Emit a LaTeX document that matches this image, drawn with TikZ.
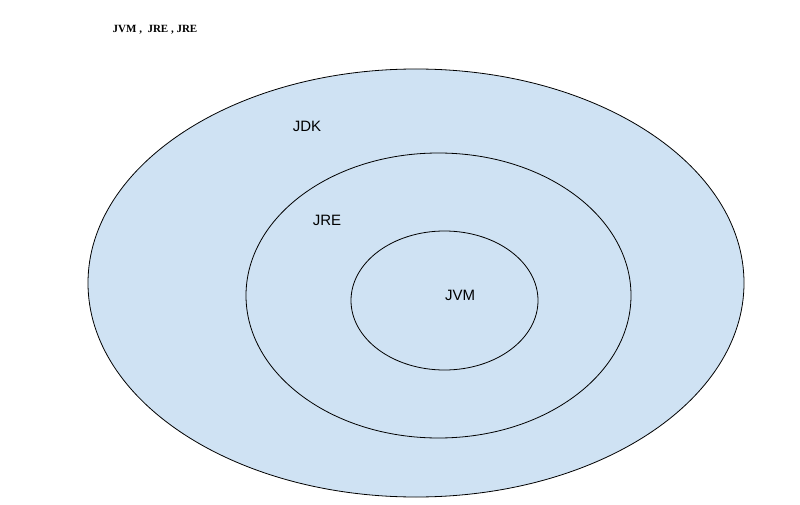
\documentclass[tikz,border=0pt]{standalone}
\usepackage{fontspec}
\setmainfont{Liberation Serif}
\newfontfamily\lsans{Liberation Sans}
\begin{document}
\begin{tikzpicture}[x=1pt,y=-1pt,
  ring/.style={draw=black,fill=blue!0,fill={rgb,255:red,207;green,226;blue,243},line width=0.8pt},
  lab/.style={font=\lsans\fontsize{15}{18}\selectfont,inner sep=0pt}]
\useasboundingbox (0,0) rectangle (800,505);
\fill[white] (0,0) rectangle (800,505);
\path[ring] (416,283) ellipse [x radius=328,y radius=214];
\path[ring] (438.5,295.5) ellipse [x radius=192.5,y radius=142.5];
\path[ring] (444.5,300.5) ellipse [x radius=93.5,y radius=69.5];
\node[lab] (jdk) at (307,126) {JDK};
\node[lab] (jre) at (327,220) {JRE};
\node[lab] (jvm) at (460,295) {JVM};
\node[font=\bfseries\fontsize{11}{13}\selectfont,inner sep=0pt] (title) at (155,30) {JVM ,\ \ JRE , JRE};
\end{tikzpicture}
\end{document}
